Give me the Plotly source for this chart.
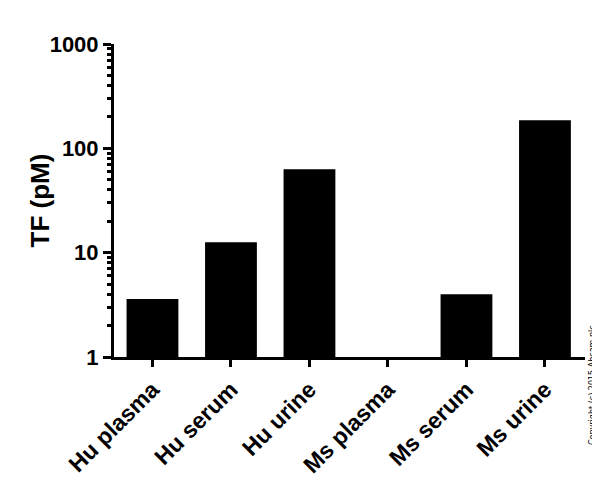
import plotly.graph_objects as go

categories = ["Hu plasma", "Hu serum", "Hu urine", "Ms plasma", "Ms serum", "Ms urine"]
tf_pm = [3.6, 12.6, 63, 1.0, 4.0, 186]
y_tick_vals = [1, 10, 100, 1000]
y_tick_text = ["1", "10", "100", "1000"]
y_minor_vals = [m * 10 ** e for e in range(3) for m in range(2, 10)]

FONT = "Liberation Sans, Arial, sans-serif"

fig = go.Figure()
fig.add_trace(go.Bar(
    x=list(range(len(categories))),
    y=tf_pm,
    marker=dict(color="black", line=dict(width=0)),
    width=0.66,
))

fig.update_layout(
    width=592, height=490,
    margin=dict(l=106, r=15, t=36, b=141),
    paper_bgcolor="white", plot_bgcolor="white",
    showlegend=False,
    font=dict(family=FONT, color="black"),
)

fig.update_xaxes(
    range=[-0.49, 5.51],
    tickvals=list(range(len(categories))),
    ticktext=categories,
    tickangle=-45,
    tickfont=dict(family=FONT, size=23, weight="bold", color="black"),
    showline=True, linecolor="black", linewidth=3,
    ticks="outside", ticklen=7, tickwidth=3, tickcolor="black",
    showgrid=False, zeroline=False,
    automargin=False,
)

fig.update_yaxes(
    type="log",
    range=[0, 3],
    tickvals=y_tick_vals,
    ticktext=y_tick_text,
    tickfont=dict(family=FONT, size=22, weight="bold", color="black"),
    showline=True, linecolor="black", linewidth=3,
    ticks="outside", ticklen=8, tickwidth=3, tickcolor="black",
    minor=dict(tickmode="array", tickvals=y_minor_vals, ticks="outside",
               ticklen=4, tickwidth=2.5, tickcolor="black", showgrid=False),
    showgrid=False, zeroline=False,
    automargin=False,
)

fig.add_annotation(
    text="TF (pM)",
    xref="paper", yref="paper",
    x=0.0, y=0.5, xshift=-75,
    textangle=-90, showarrow=False,
    xanchor="center", yanchor="middle",
    font=dict(family=FONT, size=26, weight="bold", color="black"),
)

fig.add_annotation(
    text="Copyright (c) 2015 Abcam plc",
    xref="paper", yref="paper",
    x=1.0, y=0.0, xshift=7, yshift=-28,
    textangle=-90, showarrow=False,
    xanchor="center", yanchor="middle",
    font=dict(family="DejaVu Sans, sans-serif", size=8, color="black"),
)

fig.write_html("out.html")
